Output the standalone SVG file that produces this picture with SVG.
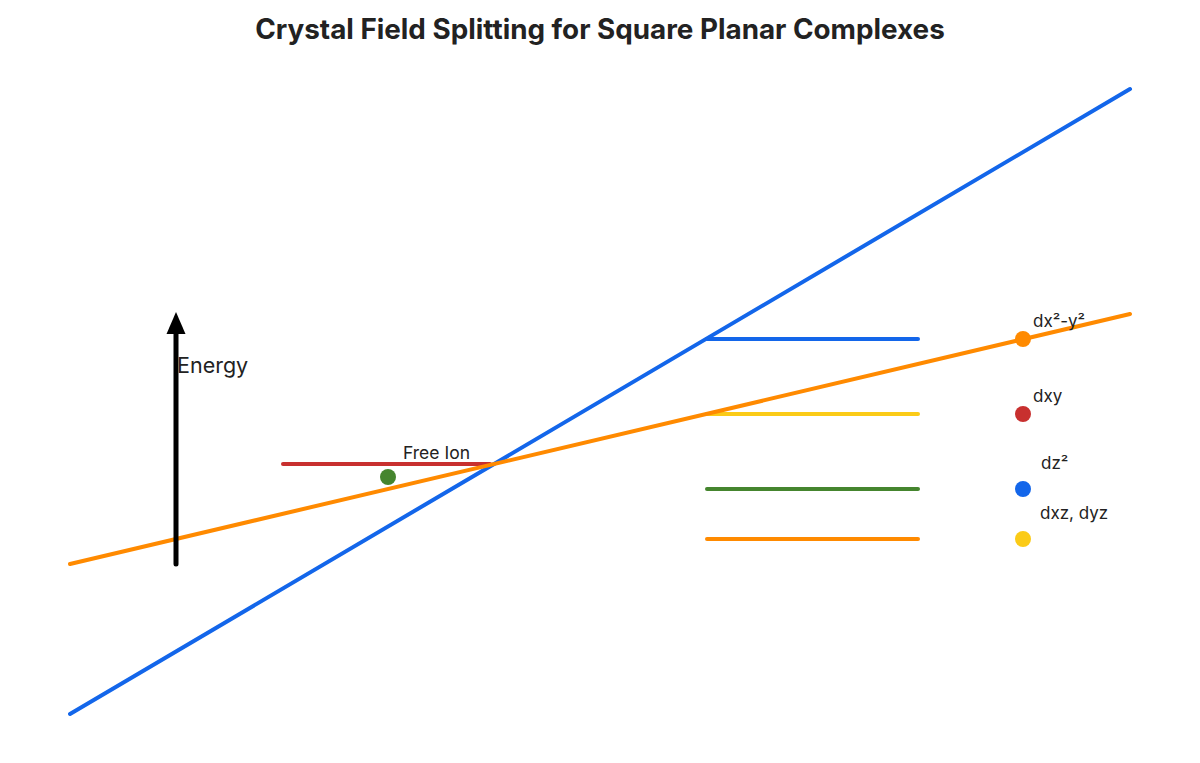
<svg xmlns="http://www.w3.org/2000/svg" width="1200" height="763" viewBox="0 0 1200 763">
<style>
.ln{stroke-width:4;stroke-linecap:round;fill:none}
.t{font-family:Inter,"Noto Sans","Liberation Sans",sans-serif;fill:#222}
.lbl{font-size:17px}
</style>
<rect width="1200" height="763" fill="#fff"/>
<text class="t" x="600" y="39" text-anchor="middle" font-size="27.8" font-weight="700">Crystal Field Splitting for Square Planar Complexes</text>
<g id="connectors">
<line class="ln" x1="70" y1="714" x2="1130" y2="89" stroke="#1366EA"/>
<line class="ln" x1="283" y1="464" x2="490" y2="464" stroke="#C8302F"/>
<line class="ln" x1="707" y1="339" x2="918" y2="339" stroke="#1366EA"/>
<line class="ln" x1="707" y1="414" x2="918" y2="414" stroke="#FBCB17"/>
<line class="ln" x1="707" y1="489" x2="918" y2="489" stroke="#45852E"/>
<line class="ln" x1="707" y1="539" x2="918" y2="539" stroke="#FF8A00"/>
<line class="ln" x1="70" y1="564" x2="1130" y2="314" stroke="#FF8A00"/>
</g>
<g id="energy-axis">
<line x1="176" y1="564" x2="176" y2="334" stroke="#000" stroke-width="5" stroke-linecap="round"/>
<path d="M176,312 L185.5,334 L166.5,334 Z" fill="#000"/>
<text class="t" x="177" y="373" font-size="21.5">Energy</text>
</g>
<g id="free-ion">
<circle cx="388" cy="477" r="8" fill="#45852E"/>
<text class="t" x="403" y="459" font-size="17.5">Free Ion</text>
</g>
<g id="dx2-y2">
<circle cx="1023" cy="339" r="8" fill="#FF8A00"/>
<text class="t lbl" x="1033" y="327">dx²-y²</text>
</g>
<g id="dxy">
<circle cx="1023" cy="414" r="8" fill="#C8302F"/>
<text class="t lbl" x="1033" y="402">dxy</text>
</g>
<g id="dz2">
<circle cx="1023" cy="489" r="8" fill="#1366EA"/>
<text class="t lbl" x="1041" y="469">dz²</text>
</g>
<g id="dxz-dyz">
<circle cx="1023" cy="539" r="8" fill="#FBCB17"/>
<text class="t lbl" x="1040" y="519">dxz, dyz</text>
</g>
</svg>
